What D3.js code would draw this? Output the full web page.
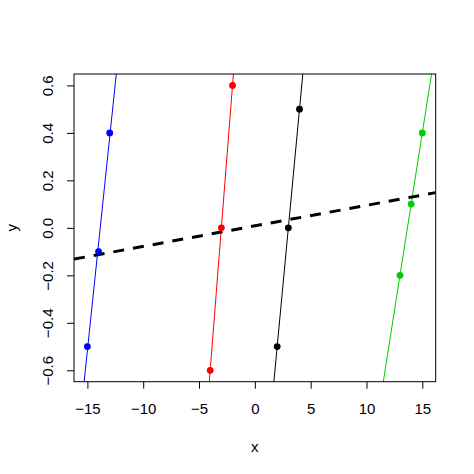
<!DOCTYPE html>
<html lang="en">
<head>
  <meta charset="UTF-8">
  <title>Group regression lines</title>
  <script src="https://d3js.org/d3.v7.min.js"></script>
  <style>
    body { margin: 0; background: #fff; }
    svg { display: block; font-family: "Liberation Sans", Arial, sans-serif; }
    .axis path, .axis line { stroke: #000; }
  </style>
</head>
<body>
  <svg id="chart" width="474" height="474"></svg>
  <script>
    // data, one array per group
    const groups = ["blue", "red", "black", "green"];
    const groupColors = ["#0000FF", "#FF0000", "#000000", "#00CD00"];
    const xBlue = [-15, -14, -13], yBlue = [-0.5, -0.1, 0.4];
    const xRed = [-4, -3, -2], yRed = [-0.6, 0.0, 0.6];
    const xBlack = [2, 3, 4], yBlack = [-0.5, 0.0, 0.5];
    const xGreen = [13, 14, 15], yGreen = [-0.2, 0.1, 0.4];
    const xTicks = [-15, -10, -5, 0, 5, 10, 15];
    const yTicks = [-0.6, -0.4, -0.2, 0.0, 0.2, 0.4, 0.6];

    const series = [[xBlue, yBlue], [xRed, yRed], [xBlack, yBlack], [xGreen, yGreen]]
      .map(([xs, ys], i) => ({
        name: groups[i], color: groupColors[i],
        pts: xs.map((x, j) => ({x, y: ys[j]}))
      }));

    const margin = {top: 74, right: 38.3, bottom: 92.3, left: 74};
    const W = 474, H = 474;
    const svg = d3.select("#chart");

    // R style 4% padding on both axes
    const allPts = series.flatMap(s => s.pts);
    const pad = (e) => { const r = e[1] - e[0]; return [e[0] - 0.04 * r, e[1] + 0.04 * r]; };
    const x = d3.scaleLinear().domain(pad(d3.extent(allPts, d => d.x)))
      .range([margin.left, W - margin.right]);
    const y = d3.scaleLinear().domain(pad(d3.extent(allPts, d => d.y)))
      .range([H - margin.bottom, margin.top]);

    function fit(pts) {
      const mx = d3.mean(pts, d => d.x), my = d3.mean(pts, d => d.y);
      const sxy = d3.sum(pts, d => (d.x - mx) * (d.y - my));
      const sxx = d3.sum(pts, d => (d.x - mx) ** 2);
      const b = sxy / sxx;
      return {a: my - b * mx, b};
    }

    svg.append("defs").append("clipPath").attr("id", "plotclip")
      .append("rect")
      .attr("x", margin.left).attr("y", margin.top)
      .attr("width", W - margin.left - margin.right)
      .attr("height", H - margin.top - margin.bottom);

    const plot = svg.append("g").attr("clip-path", "url(#plotclip)");
    const [x0, x1] = x.domain();

    // per-group fitted lines
    series.forEach(s => {
      const f = fit(s.pts);
      plot.append("line")
        .attr("x1", x(x0)).attr("y1", y(f.a + f.b * x0))
        .attr("x2", x(x1)).attr("y2", y(f.a + f.b * x1))
        .attr("stroke", s.color).attr("stroke-width", 1);
    });

    // overall fitted line, dashed
    const fAll = fit(allPts);
    plot.append("line")
      .attr("x1", x(x0)).attr("y1", y(fAll.a + fAll.b * x0))
      .attr("x2", x(x1)).attr("y2", y(fAll.a + fAll.b * x1))
      .attr("stroke", "#000").attr("stroke-width", 3)
      .attr("stroke-dasharray", "11,9");

    series.forEach(s => {
      plot.selectAll(null).data(s.pts).join("circle")
        .attr("cx", d => x(d.x)).attr("cy", d => y(d.y))
        .attr("r", 3.4).attr("fill", s.color);
    });

    // box
    svg.append("rect")
      .attr("x", margin.left).attr("y", margin.top)
      .attr("width", W - margin.left - margin.right)
      .attr("height", H - margin.top - margin.bottom)
      .attr("fill", "none").attr("stroke", "#000").attr("stroke-width", 1);

    const xAxis = svg.append("g").attr("class", "axis")
      .attr("transform", `translate(0,${H - margin.bottom})`)
      .call(d3.axisBottom(x).tickValues(xTicks).tickSize(7).tickPadding(14.5)
        .tickFormat(d3.format("d")));
    xAxis.select(".domain").remove();
    xAxis.selectAll("text").attr("font-size", 15).attr("fill", "#000")
      .attr("font-family", "Liberation Sans, Arial, sans-serif");

    const yAxis = svg.append("g").attr("class", "axis")
      .attr("transform", `translate(${margin.left},0)`)
      .call(d3.axisLeft(y).tickValues(yTicks).tickSize(7).tickFormat(d3.format(".1f")));
    yAxis.select(".domain").remove();
    yAxis.selectAll("text")
      .attr("font-size", 15).attr("fill", "#000")
      .attr("font-family", "Liberation Sans, Arial, sans-serif")
      .attr("x", null).attr("dy", null)
      .attr("text-anchor", "middle")
      .attr("transform", "translate(-26,0) rotate(-90)")
      .attr("y", 5);

    svg.append("text").attr("x", x(0)).attr("y", 452)
      .attr("text-anchor", "middle").attr("font-size", 15).text("x");
    svg.append("text")
      .attr("transform", `translate(17,${y(0)}) rotate(-90)`)
      .attr("text-anchor", "middle").attr("font-size", 15).text("y");
  </script>
</body>
</html>
